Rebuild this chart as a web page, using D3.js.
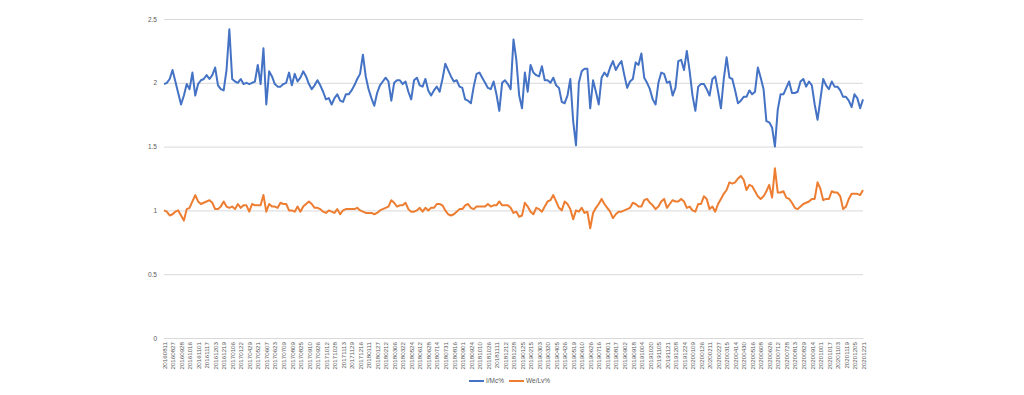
<!DOCTYPE html>
<html>
<head>
<meta charset="utf-8">
<script src="https://cdn.jsdelivr.net/npm/d3@7"></script>
<style>
  body { margin: 0; background: #fff; }
  text { font-family: "Liberation Sans", Arial, sans-serif; fill: #595959; }
</style>
</head>
<body>
<div id="chart"></div>
<script>
// tick labels on the category axis (one every 3 samples)
var labels = ["20160811","20160827","20160928","20161016","20161101","20161117","20161203","20161219",
  "20170106","20170122","20170429","20170521","20170607","20170623","20170709","20170809","20170825",
  "20170910","20170926","20171012","20171028","20171113","20171129","20171216","20180111","20180127",
  "20180212","20180306","20180322","20180524","20180612","20180628","20180714","20180731","20180816",
  "20180901","20180924","20181010","20181026","20181111","20181212","20181228","20190125","20190215",
  "20190303","20190320","20190405","20190426","20190519","20190610","20190626","20190716","20190801",
  "20190817","20190902","20190918","20191004","20191020","20191105","20191121","20191208","20191224",
  "20200109","20200126","20200211","20200227","20200315","20200414","20200430","20200516","20200608",
  "20200626","20200712","20200728","20200813","20200829","20200914","20201001","20201017","20201103",
  "20201119","20201205","20201221"];

var seriesNames = ["I/Mc%", "We/Lv%"];

// blue series
var imc = [1.99,2.00,2.03,2.10,2.01,1.92,1.83,1.90,1.99,1.95,
  2.08,1.90,1.99,2.02,2.03,2.06,2.03,2.06,2.12,1.98,
  1.95,1.94,2.10,2.42,2.03,2.01,2.00,2.03,1.99,2.00,
  1.99,2.00,2.01,2.14,1.99,2.27,1.83,2.09,2.05,1.99,
  1.97,1.97,1.99,2.00,2.08,1.98,2.07,2.01,2.04,2.09,
  2.05,1.99,1.95,1.98,2.02,1.98,1.93,1.87,1.88,1.83,
  1.88,1.91,1.86,1.85,1.91,1.91,1.94,1.98,2.03,2.07,
  2.22,2.05,1.95,1.88,1.82,1.92,1.98,2.01,2.04,2.01,
  1.86,2.00,2.02,2.02,1.99,2.01,1.93,1.87,2.02,2.04,
  1.98,1.97,2.03,1.94,1.90,1.94,1.97,1.93,2.03,2.15,
  2.10,2.05,2.01,2.02,1.97,1.96,1.87,1.86,1.84,1.97,
  2.07,2.08,2.04,2.00,1.96,1.95,2.01,1.91,1.78,2.00,
  2.02,1.99,1.95,2.34,2.18,1.90,1.80,2.08,1.93,2.14,
  2.08,2.06,2.05,2.13,2.02,2.02,2.00,2.04,1.98,1.96,
  1.85,1.84,1.90,2.03,1.70,1.51,2.00,2.09,2.11,2.11,
  1.80,2.02,1.93,1.83,2.04,2.08,2.05,2.12,2.17,2.10,
  2.14,2.17,2.06,1.96,2.01,2.03,2.16,2.14,2.23,2.04,
  2.00,1.95,1.87,1.83,2.00,2.08,2.07,2.00,2.01,1.90,
  1.96,2.17,2.18,2.10,2.25,2.09,1.90,1.78,1.97,1.99,
  1.99,1.95,1.90,2.03,2.05,1.93,1.80,2.03,2.20,2.04,
  2.03,1.94,1.84,1.86,1.89,1.89,1.94,1.91,1.93,2.12,
  2.04,1.95,1.70,1.69,1.65,1.50,1.79,1.91,1.91,1.96,
  2.01,1.92,1.92,1.93,2.01,2.03,1.97,2.01,1.98,1.83,
  1.71,1.87,2.03,1.98,1.95,2.01,1.97,1.97,1.94,1.89,
  1.89,1.86,1.81,1.91,1.88,1.80,1.87];

// orange series
var welv = [1.00,0.99,0.96,0.97,0.99,1.00,0.96,0.92,1.01,1.02,
  1.07,1.12,1.07,1.05,1.06,1.07,1.08,1.06,1.01,1.01,
  1.03,1.07,1.03,1.02,1.03,1.01,1.05,1.02,1.04,1.04,
  0.99,1.05,1.04,1.04,1.04,1.12,0.99,1.05,1.03,1.03,
  1.02,1.06,1.05,1.05,1.00,1.00,0.99,1.03,0.99,1.03,
  1.05,1.07,1.05,1.02,1.02,1.01,0.99,0.98,1.00,0.99,
  0.98,1.01,0.97,1.00,1.01,1.01,1.01,1.01,1.02,1.00,
  0.99,0.98,0.98,0.98,0.97,0.98,1.00,1.01,1.02,1.03,
  1.08,1.06,1.03,1.04,1.04,1.06,1.01,0.99,0.99,1.00,
  1.02,0.99,1.02,1.00,1.02,1.02,1.05,1.05,1.04,1.00,
  0.97,0.96,0.97,0.99,1.01,1.01,1.04,1.05,1.02,1.01,
  1.03,1.03,1.03,1.03,1.05,1.03,1.04,1.04,1.07,1.04,
  1.04,1.04,1.02,0.98,0.99,0.95,0.96,1.06,1.03,0.99,
  0.97,1.02,1.01,0.99,1.03,1.07,1.08,1.12,1.07,1.02,
  1.00,1.07,1.05,1.01,0.93,1.00,0.99,1.02,0.98,0.99,
  0.86,0.98,1.02,1.05,1.09,1.05,1.02,0.99,0.94,0.97,
  0.99,0.99,1.00,1.01,1.02,1.06,1.05,1.03,1.03,1.08,
  1.09,1.06,1.04,1.01,1.03,1.07,1.09,1.02,1.05,1.08,
  1.07,1.07,1.09,1.07,1.02,1.03,1.00,0.99,1.05,1.05,
  1.11,1.09,1.01,1.03,0.99,1.05,1.09,1.13,1.16,1.22,
  1.21,1.22,1.25,1.27,1.24,1.16,1.20,1.19,1.15,1.11,
  1.09,1.11,1.15,1.20,1.10,1.33,1.14,1.14,1.15,1.10,
  1.09,1.06,1.02,1.01,1.03,1.05,1.06,1.07,1.09,1.09,
  1.22,1.17,1.08,1.09,1.09,1.15,1.14,1.14,1.11,1.01,
  1.03,1.09,1.13,1.13,1.13,1.12,1.16];

var yTicks = [0, 0.5, 1, 1.5, 2, 2.5];
var labelStep = 3;

var svgWidth = 1024;
var svgHeight = 395;

// plot area
var margin = { top: 19, right: 161, bottom: 57, left: 164 };
var width = svgWidth - margin.left - margin.right;
var height = svgHeight - margin.top - margin.bottom;

var svg = d3.select("#chart")
  .append("svg")
  .attr("width", svgWidth)
  .attr("height", svgHeight);

var chartGroup = svg.append("g")
  .attr("transform", `translate(${margin.left}, ${margin.top})`);

var xScale = d3.scalePoint()
  .domain(d3.range(imc.length))
  .range([0, width]);

var yScale = d3.scaleLinear()
  .domain([0, 2.5])
  .range([height, 0]);

// horizontal gridlines + y labels
var leftAxis = d3.axisLeft(yScale)
  .tickValues(yTicks)
  .tickSize(-width)
  .tickPadding(7)
  .tickFormat(d => String(d));

var yAxisG = chartGroup.append("g").call(leftAxis);
yAxisG.select(".domain").remove();
yAxisG.selectAll("line").attr("stroke", "#d9d9d9");
yAxisG.selectAll("text").style("font-size", "6.5px");

// category axis, vertical labels
var bottomAxis = d3.axisBottom(xScale)
  .tickValues(d3.range(0, imc.length, labelStep))
  .tickSize(0)
  .tickFormat(i => labels[i / labelStep]);

var xAxisG = chartGroup.append("g")
  .attr("transform", `translate(0, ${height})`)
  .call(bottomAxis);
xAxisG.select(".domain").attr("stroke", "#d9d9d9");
xAxisG.selectAll("text")
  .attr("y", 0)
  .attr("x", -4)
  .attr("dy", "0.35em")
  .attr("transform", "rotate(-90)")
  .style("text-anchor", "end")
  .style("font-size", "6.2px");

var line = d3.line()
  .x((d, i) => xScale(i))
  .y(d => yScale(d));

chartGroup.append("path")
  .datum(imc)
  .attr("fill", "none")
  .attr("stroke", "#4472c4")
  .attr("stroke-width", 2)
  .attr("stroke-linejoin", "round")
  .attr("d", line);

chartGroup.append("path")
  .datum(welv)
  .attr("fill", "none")
  .attr("stroke", "#ed7d31")
  .attr("stroke-width", 2)
  .attr("stroke-linejoin", "round")
  .attr("d", line);

// legend
var legendColors = ["#4472c4", "#ed7d31"];
var legendX = [469, 509];
var legend = svg.append("g");
seriesNames.forEach((name, i) => {
  legend.append("line")
    .attr("x1", legendX[i]).attr("x2", legendX[i] + 15)
    .attr("y1", 381).attr("y2", 381)
    .attr("stroke", legendColors[i])
    .attr("stroke-width", 2);
  legend.append("text")
    .attr("x", legendX[i] + 17)
    .attr("y", 381)
    .attr("dy", "0.35em")
    .style("font-size", "6.5px")
    .text(name);
});
</script>
</body>
</html>
